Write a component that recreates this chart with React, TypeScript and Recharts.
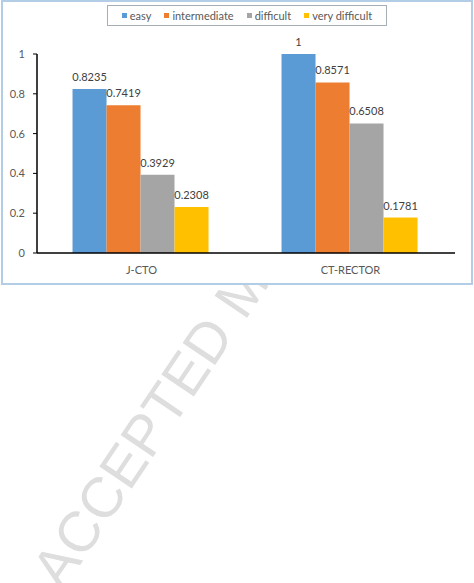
import React from "react";
import { BarChart, Bar, XAxis, YAxis, Legend, LabelList } from "recharts";

const categories = ["J-CTO", "CT-RECTOR"];
const easy = [0.8235, 1];
const intermediate = [0.7419, 0.8571];
const difficult = [0.3929, 0.6508];
const veryDifficult = [0.2308, 0.1781];
const seriesNames = ["easy", "intermediate", "difficult", "very difficult"];
const seriesKeys = ["easy", "intermediate", "difficult", "veryDifficult"];
const seriesColors = ["#5b9bd5", "#ed7d31", "#a5a5a5", "#ffc000"];
const yTicks = [0, 0.2, 0.4, 0.6, 0.8, 1];

const data = categories.map((c, i) => ({
  name: c,
  easy: easy[i],
  intermediate: intermediate[i],
  difficult: difficult[i],
  veryDifficult: veryDifficult[i],
}));

const FONT = "Lato, 'Liberation Sans', sans-serif";

const LegendContent = () => (
  <div
    style={{
      display: "flex",
      alignItems: "center",
      justifyContent: "center",
      height: "100%",
      fontFamily: FONT,
      fontSize: 11,
      color: "#595959",
    }}
  >
    {seriesNames.map((n, i) => (
      <span key={n} style={{ display: "flex", alignItems: "center", marginRight: i < 3 ? 13 : 0 }}>
        <span
          style={{
            display: "inline-block",
            width: 5,
            height: 5,
            background: seriesColors[i],
            marginRight: 3,
          }}
        />
        {n}
      </span>
    ))}
  </div>
);

export default function App() {
  return (
    <div style={{ position: "absolute", left: 0, top: 0, width: 474, height: 583, background: "#fff", overflow: "hidden" }}>
      <svg width={474} height={583} style={{ position: "absolute", left: 0, top: 0 }}>
        <text
          x={62}
          y={592}
          transform="rotate(-56 62 592)"
          fontFamily="'Liberation Sans', sans-serif"
          fontSize={57}
          fill="#dedede"
        >
          ACCEPTED MANUSCRIPT
        </text>
      </svg>
      <div
        style={{
          position: "absolute",
          left: 1,
          top: 0,
          width: 472,
          height: 285,
          boxSizing: "border-box",
          border: "2px solid #b4cde6",
          background: "#fff",
        }}
      >
        <BarChart
          width={468}
          height={281}
          data={data}
          margin={{ top: 52, right: 16, bottom: 0, left: 1 }}
          barCategoryGap="17%"
          barGap={0}
        >
          <XAxis
            dataKey="name"
            axisLine={{ stroke: "#000", strokeWidth: 1.5 }}
            tickLine={false}
            tickSize={6}
            tickMargin={7}
            height={30}
            tick={{ fill: "#595959", fontSize: 11, fontFamily: FONT }}
          />
          <YAxis
            domain={[0, 1]}
            ticks={yTicks}
            width={33}
            axisLine={{ stroke: "#000", strokeWidth: 1.5 }}
            tickLine={{ stroke: "#000" }}
            tickSize={4}
            tickMargin={8}
            tick={{ fill: "#595959", fontSize: 11, fontFamily: FONT }}
          />
          <Legend
            layout="vertical"
            align="center"
            verticalAlign="middle"
            content={<LegendContent />}
            wrapperStyle={{
              left: 104,
              top: 3,
              width: 280,
              height: 21,
              boxSizing: "border-box",
              border: "1px solid #a6aeb8",
              background: "#fff",
            }}
          />
          {seriesKeys.map((k, i) => (
            <Bar key={k} dataKey={k} name={seriesNames[i]} fill={seriesColors[i]} isAnimationActive={false}>
              <LabelList
                dataKey={k}
                position="top"
                offset={8}
                fill="#404040"
                fontSize={11}
                fontFamily={FONT}
              />
            </Bar>
          ))}
        </BarChart>
      </div>
    </div>
  );
}
